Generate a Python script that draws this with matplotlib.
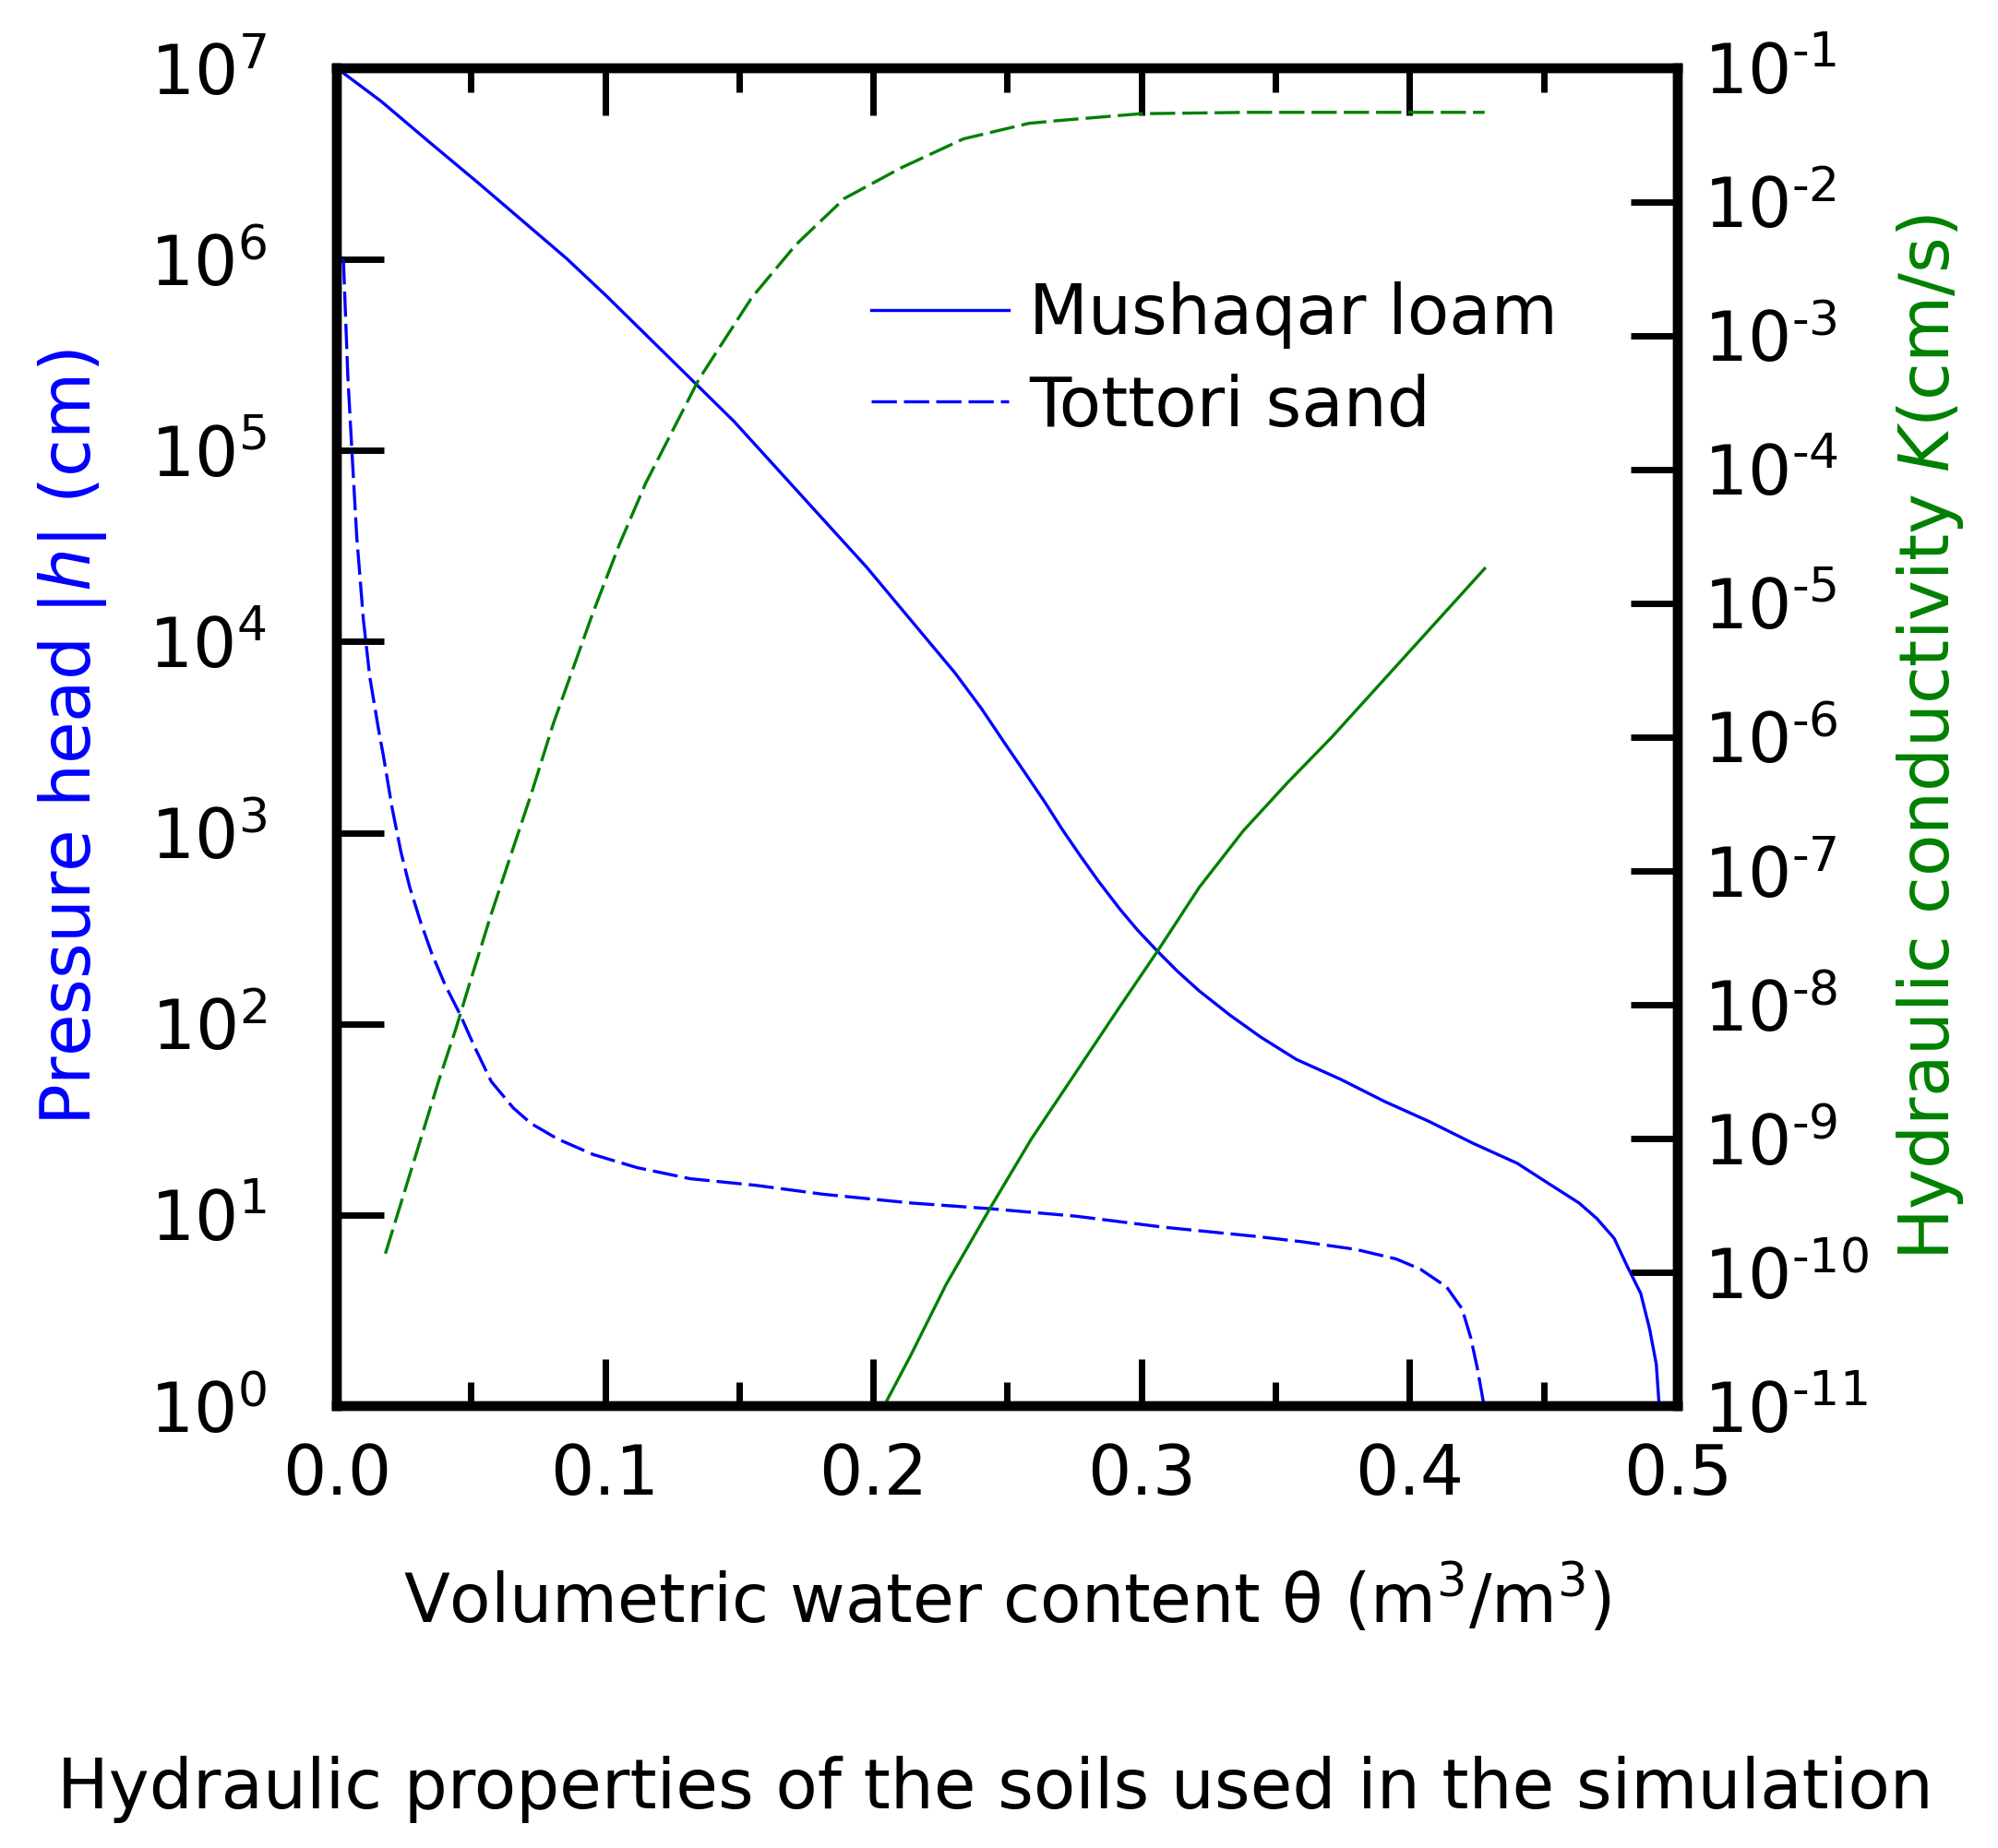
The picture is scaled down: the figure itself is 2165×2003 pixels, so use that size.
import numpy as np
import matplotlib
matplotlib.use("Agg")
import matplotlib.pyplot as plt
from matplotlib.ticker import NullLocator, FixedLocator

# water content (m3/m3) and log10 of the values
loam_theta_h = [0.0, 0.0165, 0.0346, 0.0527, 0.0856, 0.1004, 0.1481, 0.1975,
                0.2305, 0.2403, 0.2492, 0.2558, 0.2640, 0.2706, 0.2772, 0.2838,
                0.2920, 0.2986, 0.306, 0.3134, 0.3216, 0.3331, 0.3447, 0.3578,
                0.3743, 0.3907, 0.4072, 0.4237, 0.4401, 0.4516, 0.4632, 0.4698,
                0.4763, 0.4813, 0.4862, 0.4895, 0.492, 0.4931]
loam_log_h = [7.0, 6.827, 6.612, 6.40, 6.005, 5.81, 5.152, 4.39,
              3.836, 3.651, 3.465, 3.33, 3.16, 3.015, 2.88, 2.75,
              2.60, 2.49, 2.38, 2.276, 2.172, 2.045, 1.929, 1.814,
              1.71, 1.594, 1.49, 1.375, 1.271, 1.167, 1.063, 0.982,
              0.878, 0.728, 0.59, 0.405, 0.22, 0.0]

sand_theta_h = [0.0022, 0.0025, 0.0041, 0.0058, 0.0074, 0.0099, 0.0123, 0.0156,
                0.0173, 0.0206, 0.0239, 0.0272, 0.0313, 0.0354, 0.0403, 0.0461,
                0.051, 0.0576, 0.0658, 0.0724, 0.0823, 0.0955, 0.1119, 0.1317,
                0.1564, 0.1811, 0.214, 0.2436, 0.2755, 0.3084, 0.3414, 0.360,
                0.380, 0.395, 0.404, 0.4138, 0.4196, 0.4228, 0.4253, 0.4278]
sand_log_h = [6.0, 5.98, 5.383, 4.95, 4.552, 4.113, 3.813, 3.536,
              3.407, 3.13, 2.899, 2.714, 2.53, 2.368, 2.206, 2.045,
              1.89, 1.698, 1.56, 1.479, 1.398, 1.317, 1.248, 1.19,
              1.155, 1.109, 1.063, 1.033, 0.994, 0.936, 0.89, 0.86,
              0.82, 0.77, 0.717, 0.624, 0.509, 0.359, 0.197, 0.0]

sand_theta_k = [0.0181, 0.0247, 0.0313, 0.0379, 0.0444, 0.0494, 0.0576, 0.0658,
                0.0724, 0.0807, 0.0955, 0.1053, 0.1152, 0.135, 0.1547, 0.1712,
                0.1893, 0.2107, 0.2337, 0.2581, 0.270, 0.300, 0.340, 0.428]
sand_log_k = [-9.86, -9.431, -9.002, -8.573, -8.178, -7.848, -7.32, -6.826,
              -6.43, -5.90, -5.07, -4.562, -4.10, -3.325, -2.715, -2.319,
              -1.973, -1.742, -1.528, -1.412, -1.39, -1.34, -1.33, -1.33]

loam_theta_k = [0.204, 0.214, 0.2272, 0.2436, 0.259, 0.2755, 0.292, 0.306,
                0.3216, 0.338, 0.3545, 0.371, 0.428]
loam_log_k = [-11.0, -10.62, -10.09, -9.52, -9.002, -8.508, -8.013, -7.60,
              -7.122, -6.70, -6.34, -6.0, -4.74]

h_exps = list(range(0, 8))
k_exps = list(range(-11, 0))

BLUE = "#0000ff"
GREEN = "#008000"
FS = 53.5

plt.rcParams["font.family"] = "DejaVu Sans"
plt.rcParams["mathtext.fontset"] = "dejavusans"
plt.rcParams["font.size"] = FS

fig = plt.figure(figsize=(21.65, 20.03), dpi=100)
ax = fig.add_axes([0.1686, 0.2391, 0.6711, 0.7240])
ax2 = ax.twinx()

dash = (8.2, 2.3)
ax.plot(loam_theta_h, 10 ** np.array(loam_log_h), color=BLUE, lw=2.4,
        label="Mushaqar loam")
ax.plot(sand_theta_h, 10 ** np.array(sand_log_h), color=BLUE, lw=2.4,
        dashes=dash, label="Tottori sand")
ax2.plot(sand_theta_k, 10 ** np.array(sand_log_k), color=GREEN, lw=2.4, dashes=dash)
ax2.plot(loam_theta_k, 10 ** np.array(loam_log_k), color=GREEN, lw=2.4)

ax.set_xlim(0, 0.5)
ax.set_yscale("log")
ax.set_ylim(1, 1e7)
ax2.set_yscale("log")
ax2.set_ylim(1e-11, 1e-1)

xt = np.arange(0, 0.51, 0.1)
ax.set_xticks(xt, [f"{v:.1f}" for v in xt])
ax.xaxis.set_minor_locator(FixedLocator(np.arange(0.05, 0.5, 0.1)))
ax.yaxis.set_major_locator(FixedLocator([10.0 ** e for e in h_exps]))
ax.set_yticklabels([rf"$10^{{{e}}}$" for e in h_exps])
ax.yaxis.set_minor_locator(NullLocator())
ax2.yaxis.set_major_locator(FixedLocator([10.0 ** e for e in k_exps]))
ax2.set_yticklabels([rf"$10^{{\text{{{e}}}}}$" for e in k_exps])
ax2.yaxis.set_minor_locator(NullLocator())

ax.tick_params(axis="x", which="major", direction="in", top=True, bottom=True,
               length=37, width=5, pad=28, labelsize=FS)
ax.tick_params(axis="x", which="minor", direction="in", top=True, bottom=True,
               length=19, width=5)
ax.tick_params(axis="y", which="major", direction="in", left=True, right=False,
               length=37, width=5, pad=55, labelsize=FS)
ax2.tick_params(axis="y", which="major", direction="in", right=True, left=False,
                length=37, width=5, pad=20, labelsize=FS)

for a in (ax, ax2):
    for s in a.spines.values():
        s.set_linewidth(7.5)

ax.set_xlabel(r"Volumetric water content θ (m$^3$/m$^3$)", fontsize=52.5)
ax.xaxis.set_label_coords(0.5, -0.117)
ax.set_ylabel(r"Pressure head |$h$| (cm)", color=BLUE, fontsize=FS)
ax.yaxis.set_label_coords(-0.170, 0.5)
ax2.set_ylabel(r"Hydraulic conductivity $K$(cm/s)", color=GREEN, fontsize=FS)
ax2.yaxis.set_label_coords(1.1617, 0.5)

ax.legend(loc="center left", bbox_to_anchor=(0.3985, 0.781), frameon=False,
          borderpad=0, borderaxespad=0, handlelength=2.0, handletextpad=0.3,
          labelspacing=0.35, fontsize=FS)

fig.text(0.498, 0.0215, "Hydraulic properties of the soils used in the simulation",
         ha="center", va="baseline", fontsize=FS)

fig.savefig("out.png", dpi=100)
